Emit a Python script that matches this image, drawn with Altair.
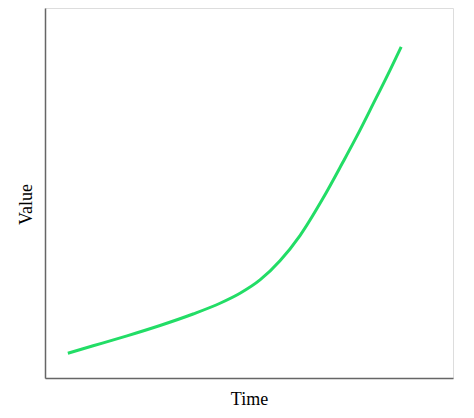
import altair as alt
import pandas as pd

time = [0.56, 1.18, 2.01, 2.82, 3.63, 4.29, 4.78, 5.27, 5.76, 6.25, 6.81, 7.30, 7.65, 8.04, 8.46, 8.73]
value = [0.67, 0.87, 1.14, 1.42, 1.73, 2.02, 2.29, 2.65, 3.17, 3.85, 4.85, 5.83, 6.55, 7.40, 8.33, 8.95]

df = pd.DataFrame({"Time": time, "Value": value})

axis_common = dict(ticks=False, labels=False, grid=False, domain=True,
                   domainColor="#666666", domainWidth=1.5,
                   titleFont="Liberation Serif", titleFontSize=18,
                   titleFontWeight="normal", titleColor="#000000")

chart = alt.Chart(df).mark_line(color="#22DD66", strokeWidth=3, interpolate="monotone").encode(
    x=alt.X("Time:Q", scale=alt.Scale(domain=[0, 10], nice=False, zero=False),
            axis=alt.Axis(titlePadding=12, **axis_common)),
    y=alt.Y("Value:Q", scale=alt.Scale(domain=[0, 10], nice=False, zero=False),
            axis=alt.Axis(titlePadding=10, titleY=196, **axis_common)),
).properties(
    width=408, height=370,
    padding={"left": 37, "top": 0, "right": 10, "bottom": 30},
    autosize=alt.AutoSizeParams(type="none"),
).configure_view(stroke=None).configure(background="white")

chart.save("out.html", embed_options={"renderer": "svg", "actions": False})
